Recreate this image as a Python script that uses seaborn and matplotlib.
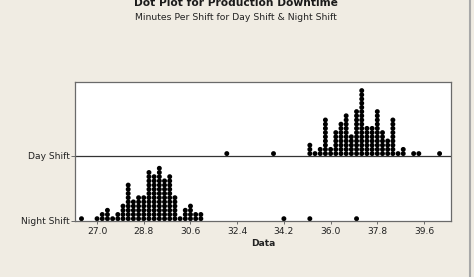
import numpy as np
import pandas as pd
import matplotlib
matplotlib.use("Agg")
import matplotlib.pyplot as plt
from matplotlib.lines import Line2D
import seaborn as sns

# ---- data (bin value -> number of stacked dots) ----
day_values = [32.0, 33.8, 35.2, 35.4, 35.6, 35.8, 36.0, 36.2, 36.4, 36.6, 36.8, 37.0,
              37.2, 37.4, 37.6, 37.8, 38.0, 38.2, 38.4, 38.6, 38.8, 39.2, 39.4, 40.2]
day_counts = [1, 1, 3, 1, 2, 9, 2, 6, 8, 10, 5, 11,
              16, 7, 7, 11, 6, 4, 9, 1, 2, 1, 1, 1]

night_values = [26.4, 27.0, 27.2, 27.4, 27.6, 27.8, 28.0, 28.2, 28.4, 28.6, 28.8, 29.0,
                29.2, 29.4, 29.6, 29.8, 30.0, 30.2, 30.4, 30.6, 30.8, 31.0, 34.2, 35.2, 37.0]
night_counts = [1, 1, 2, 3, 1, 2, 4, 9, 5, 6, 6, 12,
                11, 13, 10, 11, 6, 1, 3, 4, 2, 2, 1, 1, 1]

groups = ["Day Shift", "Night Shift"]
xticks = [27.0, 28.8, 30.6, 32.4, 34.2, 36.0, 37.8, 39.6]
title = "Dot Plot for Production Downtime"
subtitle = "Minutes Per Shift for Day Shift & Night Shift"
xlabel = "Data"

# ---- layout in "dot row" units ----
baselines = {"Night Shift": 0.0, "Day Shift": 15.5}
rows = []
for grp, vals, cnts in [("Day Shift", day_values, day_counts),
                        ("Night Shift", night_values, night_counts)]:
    for v, c in zip(vals, cnts):
        for k in range(c):
            rows.append({"value": v, "level": baselines[grp] + 0.55 + k, "group": grp})
df = pd.DataFrame(rows)

bg = "#F0ECE3"
spine_c = "#6A6A6A"

fig = plt.figure(figsize=(4.74, 2.77), dpi=100, facecolor=bg)
ax = fig.add_axes([75 / 474, 56 / 277, 376 / 474, 139 / 277])
ax.set_facecolor("white")

sns.scatterplot(data=df, x="value", y="level", color="black", s=12.5,
                linewidth=0, edgecolor="none", ax=ax, legend=False)

ax.set_xlim(26.15, 40.64)
ax.set_ylim(0, 139 / 4.2)
ax.axhline(baselines["Day Shift"], color="#333333", lw=0.9, zorder=1)

ax.set_xticks(xticks)
ax.set_xticklabels([f"{t:.1f}" for t in xticks])
ax.set_yticks([baselines[g] for g in groups])
ax.set_yticklabels(groups)

ax.tick_params(axis="x", direction="out", length=2.3, width=0.7, colors=spine_c,
               labelcolor="#222222", labelsize=6.6, pad=1.8)
ax.tick_params(axis="y", direction="out", length=3.0, width=0.7, colors=spine_c,
               labelcolor="#222222", labelsize=6.6, pad=1.0)

ax.set_xlabel(xlabel, fontsize=6.6, fontweight="bold", color="#222222", labelpad=2.5)
ax.set_ylabel("")
for sp in ax.spines.values():
    sp.set_color(spine_c)
    sp.set_linewidth(0.9)

fig.text(236 / 474, (277 - 6.5) / 277, title, ha="center", va="baseline",
         fontsize=7.7, fontweight="bold", color="#1a1a1a")
fig.text(236 / 474, (277 - 20) / 277, subtitle, ha="center", va="baseline",
         fontsize=6.7, color="#222222")

fig.add_artist(Line2D([470 / 474, 470 / 474], [0, 1], transform=fig.transFigure,
                      color="#A8A8A8", lw=1.5))

fig.savefig("out.png", dpi=100, facecolor=bg)
